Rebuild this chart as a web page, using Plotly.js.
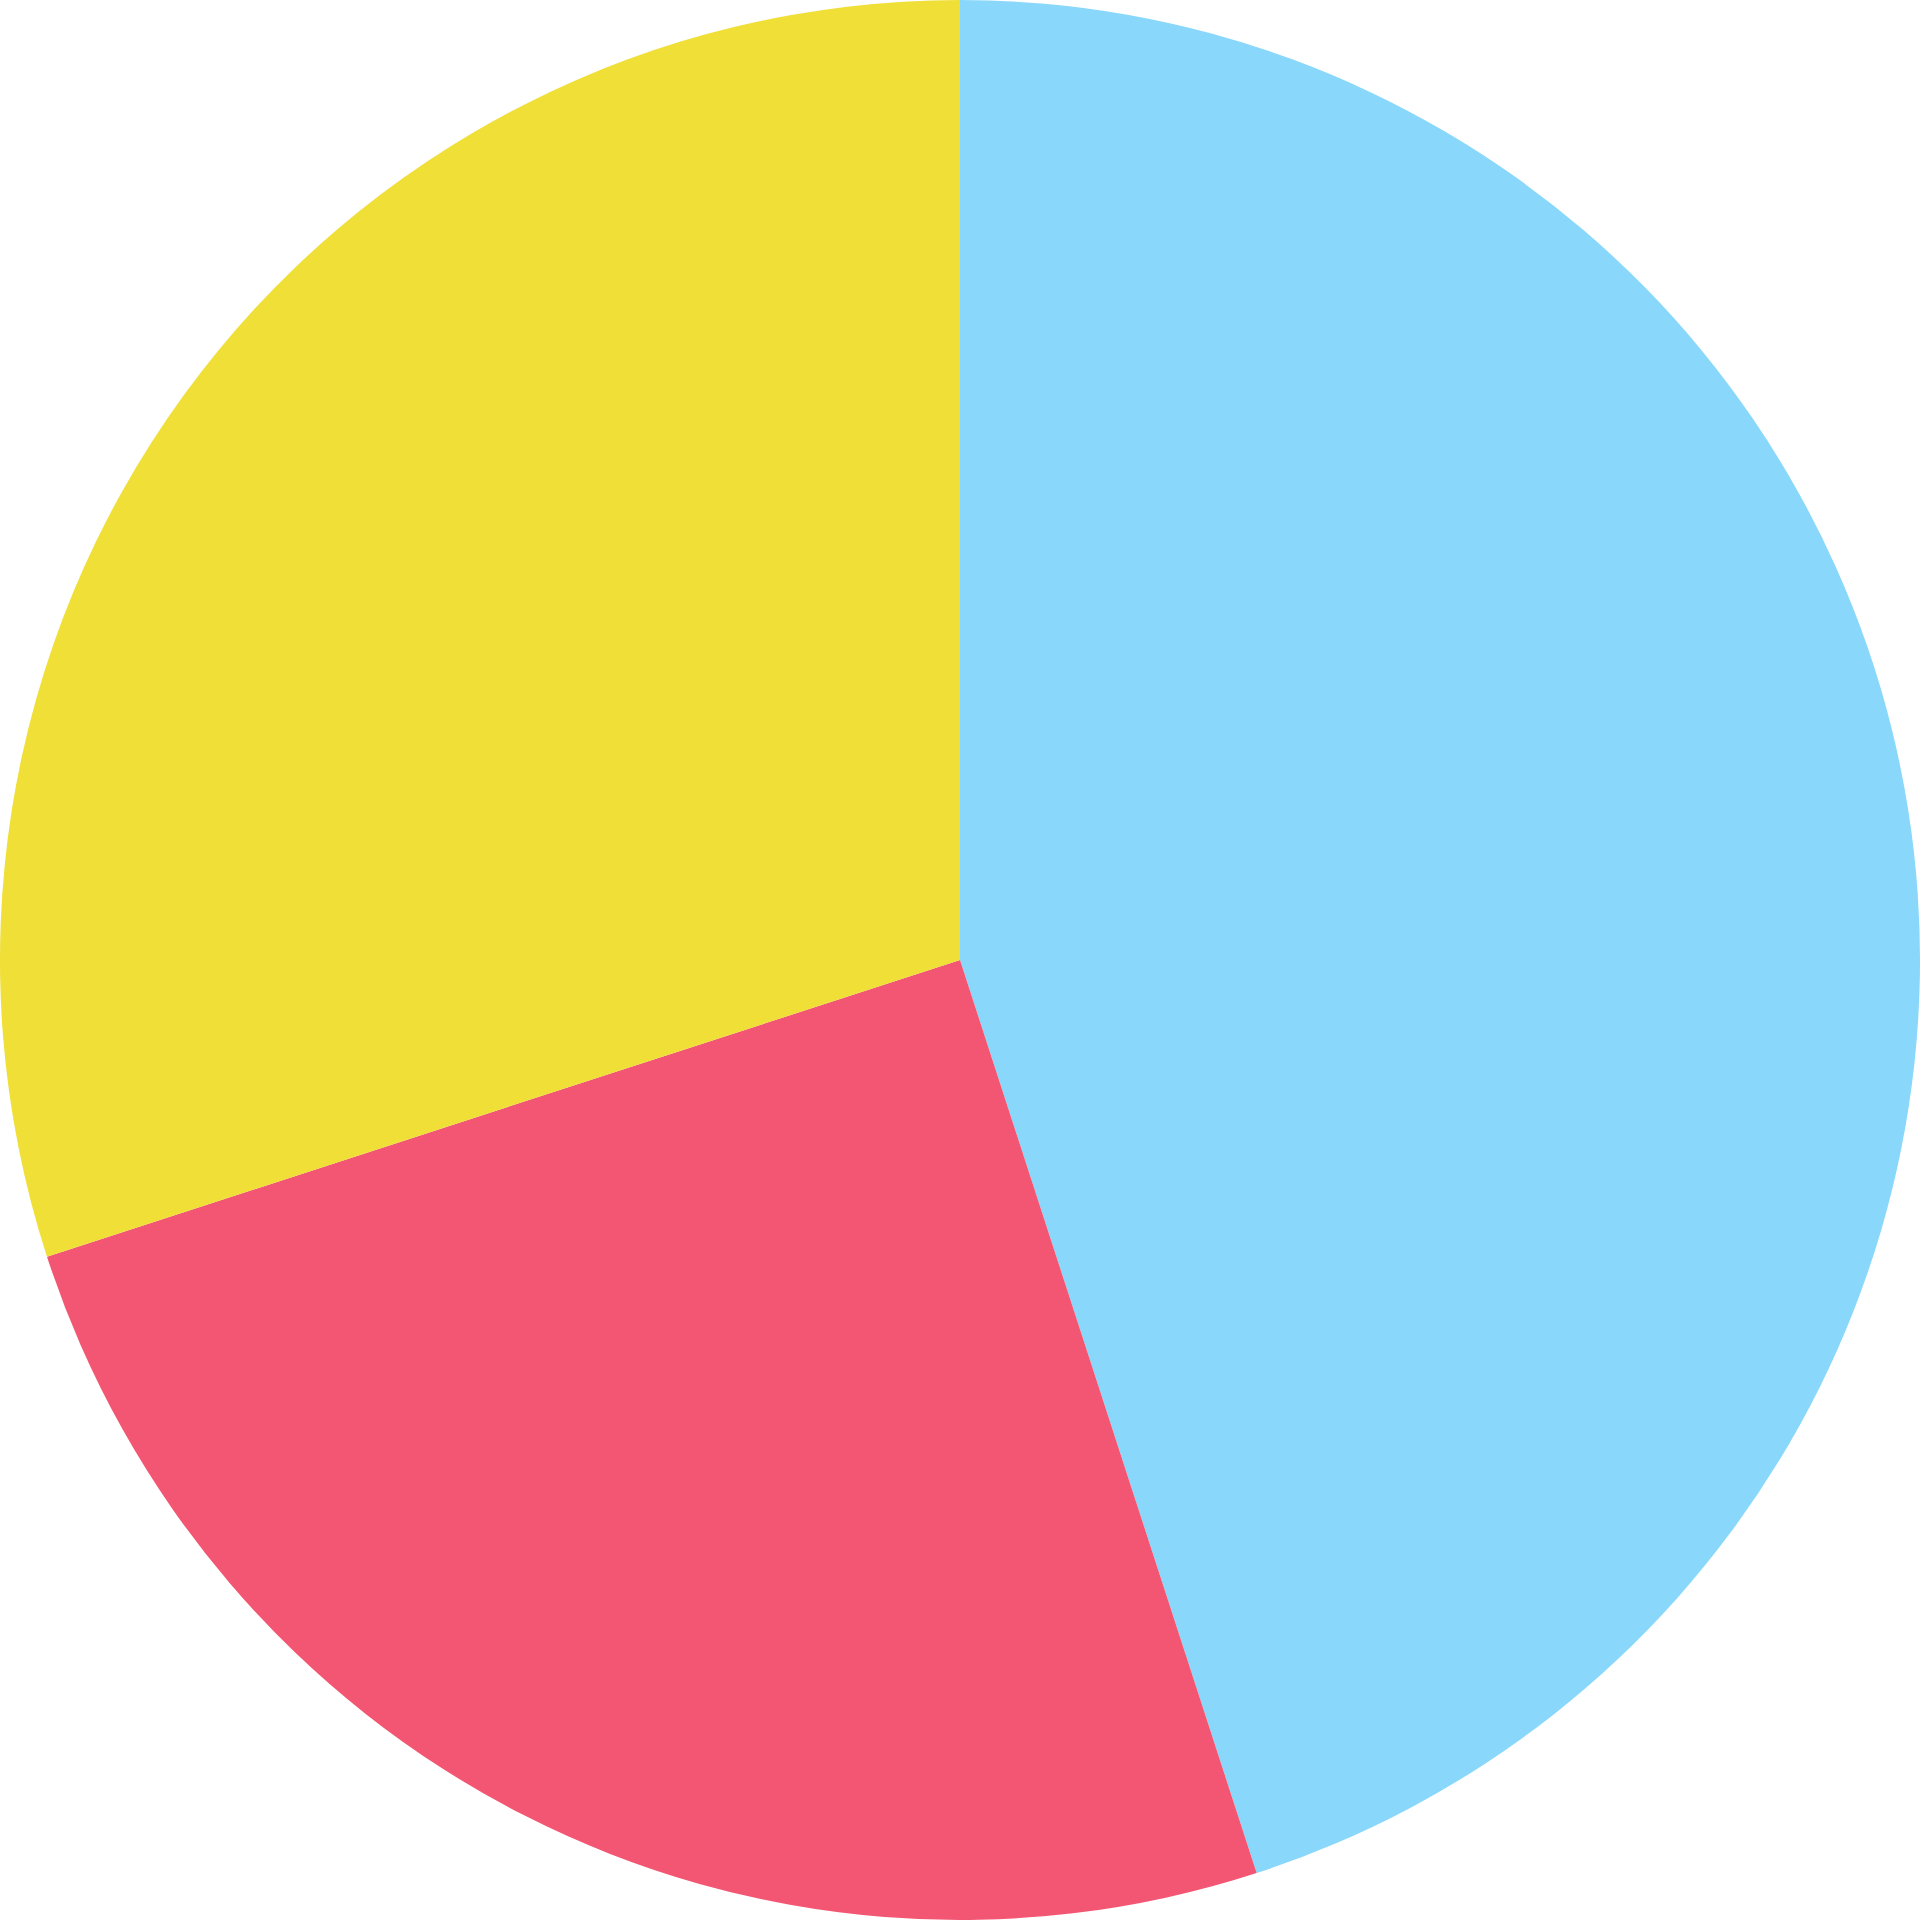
<!DOCTYPE html>
<html>
<head>
<meta charset="utf-8">
<script src="https://cdn.plot.ly/plotly-3.0.1.min.js"></script>
<style>
  html, body { margin: 0; padding: 0; background: #fff; }
  #pie { width: 1920px; height: 1920px; }
</style>
</head>
<body>
<div id="pie"></div>
<script>
// slice values (clockwise from 12 o'clock)
var labels = ['A', 'B', 'C'];
var values = [45, 25, 30];
var colors = ['#89D7FA', '#F25672', '#F0DF37'];

var trace = {
    type: 'pie',
    labels: labels,
    values: values,
    sort: false,
    direction: 'clockwise',
    rotation: 0,
    textinfo: 'none',
    hoverinfo: 'none',
    marker: { colors: colors, line: { width: 0 } },
    domain: { x: [0, 1], y: [0, 1] }
};

var layout = {
    width: 1920,
    height: 1920,
    margin: { l: 0, r: 0, t: 0, b: 0 },
    showlegend: false,
    paper_bgcolor: '#ffffff'
};

Plotly.newPlot(document.getElementById('pie'), [trace], layout, { displayModeBar: false, staticPlot: true });
</script>
</body>
</html>
